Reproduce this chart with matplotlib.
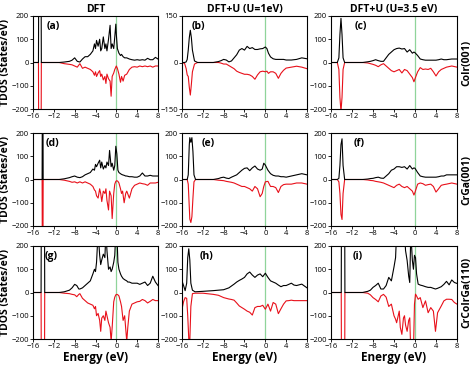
import matplotlib.pyplot as plt

plt.rcParams['font.family'] = ['Open Sans', 'DejaVu Sans']

# ---- data (energy in eV, TDOS in states/eV) ----
# (a) DFT, CoIr(001)
E_a = [-16, -14.95, -14.9, -14.45, -14.4, -11, -10, -9, -8.5, -8,
       -7.5, -7, -6.5, -6, -5.5, -5, -4.5, -4.2, -4, -3.8,
       -3.5, -3.2, -3, -2.8, -2.5, -2.2, -2, -1.8, -1.5, -1.2,
       -1, -0.8, -0.5, -0.3, -0.1, 0, 0.2, 0.5, 0.8, 1,
       1.3, 1.6, 2, 2.5, 3, 3.5, 4, 4.5, 5, 5.5,
       6, 6.5, 7, 7.5, 8]
up_a = [0, 0, 400, 400, 0, 0, 2, 5, 10, 20,
        5, 2, 15, 25, 25, 35, 50, 80, 60, 95,
        70, 100, 50, 60, 110, 60, 80, 50, 100, 160,
        60, 80, 60, 110, 165, 120, 60, 40, 30, 35,
        25, 20, 20, 15, 12, 10, 12, 10, 12, 10,
        18, 12, 12, 22, 15]
dn_a = [0, 0, -400, -400, 0, 0, -5, -8, -10, -15,
        -20, -5, -25, -20, -25, -30, -40, -55, -40, -60,
        -45, -35, -60, -50, -75, -60, -90, -50, -70, -80,
        -145, -60, -45, -30, -20, -15, -25, -50, -85, -60,
        -80, -55, -50, -30, -20, -18, -20, -15, -18, -15,
        -18, -15, -20, -15, -15]

# (b) DFT+U (U=1eV), CoIr(001)
E_b = [-16, -15.5, -15.2, -15, -14.8, -14.6, -14.4, -14.2, -14, -13.6,
       -13, -12, -11, -10, -9, -8.5, -8, -7.5, -7, -6.5,
       -6, -5.5, -5, -4.5, -4, -3.5, -3, -2.5, -2, -1.5,
       -1, -0.5, 0, 0.3, 0.6, 1, 1.5, 2, 2.5, 3,
       3.5, 4, 5, 6, 7, 8]
up_b = [0, 0, 2, 10, 40, 80, 104, 80, 40, 5,
        0, 0, 0, 0, 3, 6, 10, 8, 2, 5,
        15, 25, 40, 45, 40, 52, 45, 48, 42, 42,
        44, 45, 50, 45, 30, 18, 12, 10, 10, 10,
        10, 8, 8, 10, 15, 12]
dn_b = [0, -3, -20, -40, -45, -80, -105, -70, -30, -5,
        0, 0, 0, 0, 0, -2, -5, -5, -10, -15,
        -20, -28, -32, -35, -38, -38, -40, -45, -54, -40,
        -30, -28, -30, -28, -35, -30, -30, -35, -51, -35,
        -25, -18, -15, -12, -15, -20]

# (c) DFT+U (U=3.5 eV), CoIr(001)
E_c = [-16, -14.8, -14.5, -14.3, -14.1, -13.9, -13.7, -13.4, -12, -10,
       -9, -8.5, -8, -7.5, -7, -6.5, -6, -5.5, -5, -4.5,
       -4, -3.5, -3, -2.5, -2, -1.5, -1, -0.5, -0.2, 0,
       0.5, 1, 1.5, 2, 2.5, 3, 3.5, 4, 4.5, 5,
       5.5, 6, 7, 8]
up_c = [0, 0, 20, 120, 190, 120, 20, 0, 0, 0,
        3, 5, 8, 12, 8, 5, 5, 20, 35, 45,
        55, 60, 62, 58, 60, 45, 55, 40, 45, 42,
        30, 15, 12, 10, 10, 10, 10, 10, 12, 15,
        12, 12, 15, 15]
dn_c = [0, 0, -30, -150, -210, -150, -30, 0, 0, 0,
        -2, -5, -8, -12, -18, -10, -5, -15, -25, -35,
        -40, -35, -30, -45, -30, -35, -50, -65, -83, -70,
        -40, -22, -30, -28, -30, -25, -40, -58, -40, -30,
        -25, -20, -15, -20]

# (d) DFT, CrGa(001)
E_d = [-16, -14.25, -14.2, -14.1, -14.05, -11, -10, -9, -8.5, -8,
       -7.5, -7, -6.5, -6, -5.5, -5, -4.5, -4.2, -4, -3.8,
       -3.5, -3.2, -3, -2.8, -2.5, -2.2, -2, -1.8, -1.5, -1.3,
       -1, -0.8, -0.5, -0.3, -0.1, 0.1, 0.3, 0.5, 0.8, 1,
       1.2, 1.5, 1.8, 2, 2.5, 3, 3.5, 4, 4.5, 5,
       5.5, 6, 6.5, 7, 7.5, 8]
up_d = [0, 0, 400, 400, 0, 0, 3, 8, 12, 15,
        10, 8, 12, 20, 25, 30, 45, 40, 65, 55,
        70, 83, 50, 75, 45, 60, 50, 75, 60, 125,
        55, 70, 40, 60, 143, 110, 40, 30, 25, 22,
        20, 18, 15, 15, 12, 12, 10, 10, 15, 28,
        15, 15, 18, 15, 15, 15]
dn_d = [0, 0, -400, -400, 0, 0, -3, -8, -12, -10,
        -15, -10, -15, -10, -15, -20, -30, -45, -50, -70,
        -80, -40, -60, -95, -50, -60, -40, -90, -131, -50,
        -70, -168, -60, -20, -8, -5, -8, -15, -40, -60,
        -50, -100, -60, -50, -80, -40, -25, -20, -15, -18,
        -20, -25, -15, -15, -15, -12]

# (e) DFT+U (U=1eV), CrGa(001)
E_e = [-16, -15, -14.8, -14.6, -14.5, -14.3, -14.1, -13.9, -13.7, -13.4,
       -12, -10, -9, -8.5, -8, -7.5, -7, -6.5, -6, -5.5,
       -5, -4.5, -4, -3.5, -3, -2.5, -2, -1.5, -1, -0.6,
       -0.3, 0, 0.5, 1, 1.5, 2, 2.5, 3, 3.5, 4,
       5, 6, 7, 8]
up_e = [0, 0, 20, 150, 180, 160, 180, 120, 20, 0,
        0, 0, 4, 8, 10, 6, 4, 10, 15, 20,
        30, 40, 48, 50, 38, 50, 58, 45, 40, 45,
        70, 62, 40, 25, 18, 15, 15, 12, 12, 10,
        15, 20, 25, 20]
dn_e = [0, 0, -20, -120, -170, -185, -160, -80, -10, 0,
        0, 0, -3, -4, -5, -8, -10, -12, -15, -20,
        -25, -30, -30, -35, -40, -50, -30, -40, -74, -60,
        -30, -10, -8, -30, -30, -35, -56, -30, -22, -20,
        -20, -15, -15, -20]

# (f) DFT+U (U=3.5 eV), CrGa(001)
E_f = E_c
up_f = [0, 0, 5, 60, 150, 175, 60, 0, 0, 0,
        2, 4, 5, 8, 10, 6, 5, 15, 25, 40,
        45, 55, 55, 52, 55, 45, 60, 45, 50, 48,
        30, 15, 12, 10, 10, 10, 10, 10, 12, 15,
        15, 20, 20, 20]
dn_f = [0, 0, -10, -60, -150, -172, -60, 0, 0, 0,
        -2, -4, -5, -8, -10, -12, -15, -20, -25, -30,
        -35, -25, -20, -30, -35, -30, -40, -50, -67, -55,
        -20, -15, -18, -25, -22, -20, -30, -54, -40, -25,
        -22, -20, -15, -20]

# (g) DFT, CrCoIrGa(110)
E_g = [-16, -14.45, -14.4, -13.8, -13.75, -11, -10, -9, -8.5, -8,
       -7.6, -7.2, -7, -6.5, -6, -5.5, -5, -4.5, -4.2, -4,
       -3.8, -3.5, -3.2, -3, -2.8, -2.5, -2.2, -2, -1.8, -1.5,
       -1.2, -1, -0.8, -0.5, -0.3, -0.1, 0.1, 0.3, 0.5, 0.8,
       1, 1.3, 1.6, 2, 2.2, 2.5, 3, 3.5, 4, 4.5,
       5, 5.5, 6, 6.5, 7, 7.5, 8]
up_g = [0, 0, 400, 400, 0, 0, 3, 10, 20, 35,
        30, 15, 15, 20, 30, 40, 50, 80, 100, 90,
        130, 260, 160, 120, 140, 165, 150, 260, 180, 100,
        110, 90, 100, 130, 160, 260, 260, 130, 100, 80,
        70, 60, 55, 50, 45, 45, 40, 40, 40, 35,
        40, 45, 30, 40, 70, 45, 30]
dn_g = [0, 0, -400, -400, 0, 0, -3, -5, -8, -10,
        -18, -8, -5, -25, -35, -45, -50, -55, -70, -60,
        -100, -90, -120, -167, -110, -100, -120, -80, -100, -130,
        -150, -210, -150, -40, -20, -10, -8, -10, -15, -40,
        -60, -120, -100, -210, -150, -80, -50, -45, -40, -38,
        -30, -35, -45, -38, -30, -35, -35]

# (h) DFT+U (U=1eV), CrCoIrGa(110)
E_h = [-16, -15.7, -15.4, -15.1, -14.9, -14.7, -14.5, -14.3, -14, -13.5,
       -12, -10, -9, -8, -7, -6.5, -6, -5.5, -5, -4.5,
       -4, -3.5, -3, -2.5, -2, -1.5, -1, -0.5, 0, 0.5,
       1, 1.5, 2, 2.5, 3, 3.5, 4, 4.5, 5, 5.5,
       6, 7, 8]
up_h = [50, 30, 8, 40, 150, 188, 140, 40, 10, 3,
        5, 8, 10, 12, 20, 28, 36, 45, 52, 58,
        65, 80, 88, 75, 65, 75, 80, 68, 83, 65,
        50, 45, 40, 32, 25, 30, 30, 35, 40, 32,
        30, 36, 20]
dn_h = [-72, -40, -22, -25, -100, -200, -210, -60, -5, -3,
        -3, -8, -12, -22, -28, -30, -33, -45, -58, -65,
        -72, -80, -85, -97, -65, -60, -60, -55, -72, -50,
        -80, -43, -50, -91, -70, -50, -36, -35, -33, -35,
        -35, -35, -35]

# (i) DFT+U (U=3.5 eV), CrCoIrGa(110)
E_i = [-16, -14.05, -14.0, -13.4, -13.35, -11, -10, -9, -8.5, -8,
       -7.5, -7, -6.5, -6, -5.5, -5, -4.5, -4, -3.7, -3.5,
       -3.2, -3, -2.8, -2.5, -2.2, -2, -1.8, -1.5, -1.2, -1,
       -0.8, -0.5, -0.3, -0.1, 0.1, 0.3, 0.6, 1, 1.5, 2,
       2.5, 3, 3.5, 3.9, 4.3, 5, 5.5, 6, 6.5, 7,
       7.5, 8]
up_i = [0, 0, 400, 400, 0, 0, 0, 5, 10, 22,
        30, 40, 15, 15, 30, 65, 50, 110, 150, 260,
        230, 260, 200, 260, 230, 260, 180, 138, 70, 43,
        260, 138, 100, 160, 150, 80, 36, 32, 29, 25,
        22, 22, 18, 15, 18, 25, 35, 48, 33, 54,
        43, 39]
dn_i = [0, 0, -400, -400, 0, 0, 0, -3, -10, -22,
        -30, -40, -15, -8, -20, -60, -50, -100, -115, -130,
        -100, -80, -150, -180, -110, -100, -140, -167, -120, -109,
        -260, -260, -260, -50, -7, -15, -29, -22, -65, -36,
        -87, -65, -80, -167, -87, -58, -36, -29, -29, -30,
        -43, -50]

col_titles = ['DFT', 'DFT+U (U=1eV)', 'DFT+U (U=3.5 eV)']
row_names = ['CoIr(001)', 'CrGa(001)', 'CrCoIrGa(110)']
panel_tags = ['(a)', '(b)', '(c)', '(d)', '(e)', '(f)', '(g)', '(h)', '(i)']
energies = [E_a, E_b, E_c, E_d, E_e, E_f, E_g, E_h, E_i]
ups = [up_a, up_b, up_c, up_d, up_e, up_f, up_g, up_h, up_i]
downs = [dn_a, dn_b, dn_c, dn_d, dn_e, dn_f, dn_g, dn_h, dn_i]
ylims = [200, 150, 200, 200, 200, 200, 200, 200, 200]
ytick_sets = [[-200, -100, 0, 100, 200], [-150, 0, 150]] + [[-200, -100, 0, 100, 200]] * 7

# layout in pixels
W, H = 474, 366
lefts = [33, 182, 331]
widths = [125, 125, 126]
tops = [16, 133, 246]
ax_h = 93
tag_x = [0.11, 0.08, 0.19, 0.10, 0.16, 0.18, 0.09, 0.14, 0.17]

fig = plt.figure(figsize=(W / 100, H / 100), dpi=100)

for k in range(9):
    r, c = divmod(k, 3)
    ax = fig.add_axes([lefts[c] / W, 1 - (tops[r] + ax_h) / H, widths[c] / W, ax_h / H])
    ax.axvline(0, color='#8fd49a', lw=0.9, zorder=1)
    ax.plot(energies[k], ups[k], color='black', lw=0.8, zorder=3)
    ax.plot(energies[k], downs[k], color='#e8101a', lw=0.8, zorder=2)
    ax.set_xlim(-16, 8)
    ax.set_ylim(-ylims[k], ylims[k])
    ax.set_xticks(range(-16, 9, 4))
    ax.set_yticks(ytick_sets[k])
    ax.tick_params(labelsize=5.5, length=2, width=0.6, pad=1)
    for s in ax.spines.values():
        s.set_linewidth(0.8)
    ax.text(tag_x[k], 0.95, panel_tags[k], transform=ax.transAxes,
            fontsize=7.5, fontweight='bold', ha='left', va='top')
    if r == 0:
        ax.set_title(col_titles[c], fontsize=7.5, fontweight='bold', pad=3)
    if r == 2:
        fig.text((lefts[c] + widths[c] / 2) / W, 1 - 358 / H, 'Energy (eV)',
                 fontsize=8.5, fontweight='bold', ha='center', va='center')

for r in range(3):
    yc = 1 - (tops[r] + ax_h / 2) / H
    fig.text(6 / W, yc, 'TDOS (States/eV)', rotation=90, fontsize=7.5,
             fontweight='bold', ha='center', va='center')
    fig.text(467 / W, yc, row_names[r], rotation=90, fontsize=7.5,
             fontweight='bold', ha='center', va='center')

fig.savefig('out.png', dpi=100)
